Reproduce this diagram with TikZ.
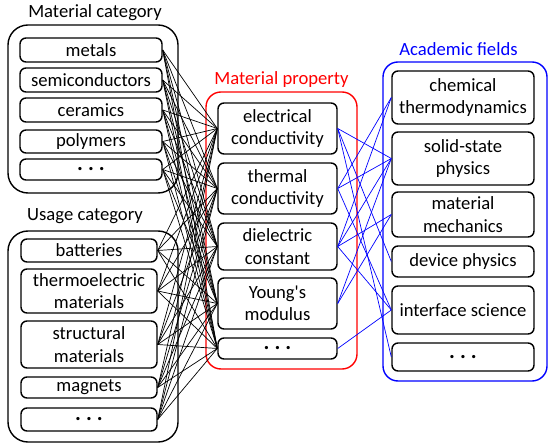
\documentclass[tikz,border=0pt]{standalone}
\usepackage{fontspec}
\setmainfont{Carlito}
\newcommand{\moredots}{{\bfseries\fontsize{22}{22}\selectfont .\hspace{5bp}.\hspace{5bp}.}}
\begin{document}
\begin{tikzpicture}[x=1bp, y=-1bp,
    itembox/.style={draw, line width=1.4bp, rounded corners=6bp, inner sep=0pt, align=center, font=\fontsize{18.7}{22.5}\selectfont},
    groupbox/.style={draw, line width=1.4bp, inner sep=0pt},
    grouptitle/.style={font=\fontsize{18.7}{22.5}\selectfont},
    wire/.style={line width=0.7bp}]
        \useasboundingbox (0,0) rectangle (550,448);

        % Grupos
        \node[groupbox, rounded corners=20bp, minimum width=170bp, minimum height=168bp] (matgroup) at (93,109) {};
        \node[groupbox, rounded corners=20bp, minimum width=170bp, minimum height=211bp] (usegroup) at (93,336.5) {};
        \node[groupbox, red, rounded corners=15bp, minimum width=151bp, minimum height=277bp] (propgroup) at (281.5,230.5) {};
        \node[groupbox, blue, rounded corners=15bp, minimum width=164bp, minimum height=319bp] (fieldgroup) at (465,221.5) {};

        % Titulos
        \node[grouptitle] (mattitle) at (95,12.5) {Material category};
        \node[grouptitle] (usetitle) at (85,216.5) {Usage category};
        \node[grouptitle, text=red] (proptitle) at (281.5,79.5) {Material property};
        \node[grouptitle, text=blue] (fieldtitle) at (458.5,49) {Academic fields};

        % Material category
        \node[itembox, minimum width=142bp, minimum height=24bp] (metals) at (91,50) {metals};
        \node[itembox, minimum width=142bp, minimum height=24bp] (semi) at (91,80) {semiconductors};
        \node[itembox, minimum width=142bp, minimum height=24bp] (ceram) at (91,110) {ceramics};
        \node[itembox, minimum width=142bp, minimum height=23bp] (poly) at (91,141.5) {polymers};
        \node[itembox, minimum width=142bp, minimum height=21bp] (mdots) at (91,169.5) {\moredots};

        % Usage category
        \node[itembox, minimum width=136bp, minimum height=23bp] (batt) at (89,250.5) {batteries};
        \node[itembox, minimum width=136bp, minimum height=44bp] (thermo) at (89,291) {thermoelectric\\materials};
        \node[itembox, minimum width=136bp, minimum height=47bp] (struct) at (89,344.5) {structural\\materials};
        \node[itembox, minimum width=136bp, minimum height=21bp] (magn) at (89,387.5) {magnets};
        \node[itembox, minimum width=136bp, minimum height=23bp] (udots) at (89,419.5) {\moredots};

        % Material property
        \node[itembox, minimum width=119bp, minimum height=51bp] (elec) at (277.5,128.5) {electrical\\conductivity};
        \node[itembox, minimum width=119bp, minimum height=51bp] (therm) at (277.5,188.5) {thermal\\conductivity};
        \node[itembox, minimum width=119bp, minimum height=47bp] (diel) at (277.5,246.5) {dielectric\\constant};
        \node[itembox, minimum width=119bp, minimum height=51bp] (young) at (277.5,303.5) {Young\textquotesingle s\\modulus};
        \node[itembox, minimum width=119bp, minimum height=21bp] (pdots) at (277.5,348.5) {\moredots};

        % Academic fields
        \node[itembox, minimum width=142bp, minimum height=53bp] (chem) at (463,97.5) {chemical\\thermodynamics};
        \node[itembox, minimum width=142bp, minimum height=53bp] (solid) at (463,158.5) {solid-state\\physics};
        \node[itembox, minimum width=142bp, minimum height=45bp] (mech) at (463,214.5) {material\\mechanics};
        \node[itembox, minimum width=142bp, minimum height=31bp] (device) at (463,261.5) {device physics};
        \node[itembox, minimum width=142bp, minimum height=48bp] (iface) at (463,310) {interface science};
        \node[itembox, minimum width=142bp, minimum height=28bp] (fdots) at (463,357) {\moredots};

        % Ligacoes categoria -> propriedade
        \foreach \a in {metals,semi,ceram,poly,mdots,batt,thermo,struct,magn,udots}
            \foreach \b in {elec,therm,diel,young,pdots}
                \draw[wire] (\a.east) -- (\b.west);

        % Ligacoes propriedade -> area
        \foreach \a/\b in {elec/solid, elec/device, elec/fdots, therm/chem, therm/solid, therm/iface,
                           diel/chem, diel/solid, diel/mech, diel/iface, young/solid, young/mech, pdots/iface}
            \draw[wire, blue] (\a.east) -- (\b.west);

    \end{tikzpicture}
\end{document}
